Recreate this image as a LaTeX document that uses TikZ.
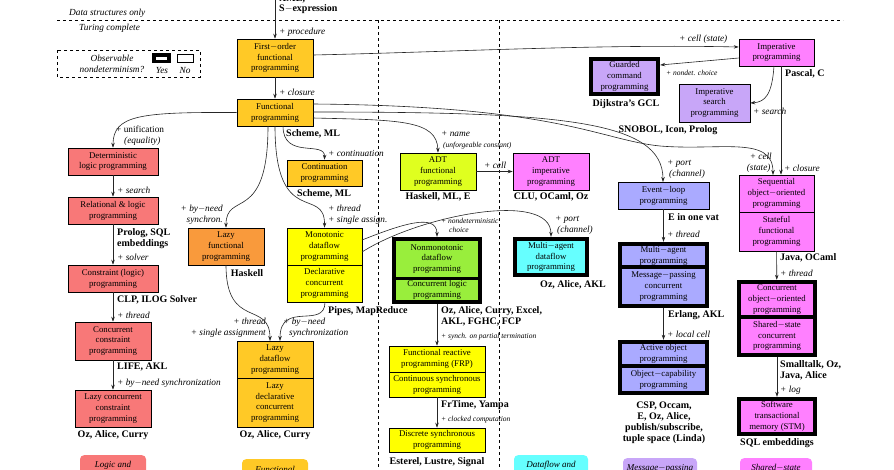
\documentclass[tikz,border=0pt]{standalone}
\usepackage{fontspec}
\setmainfont{Liberation Serif}
\usetikzlibrary{arrows.meta}
\definecolor{cor}{HTML}{FFC926}
\definecolor{cred}{HTML}{F87878}
\definecolor{clf}{HTML}{F99A3C}
\definecolor{cyel}{HTML}{FFFF00}
\definecolor{cadt}{HTML}{DFFF1F}
\definecolor{cpink}{HTML}{FF80FF}
\definecolor{cgreen}{HTML}{99EE3C}
\definecolor{ccyan}{HTML}{66FFFF}
\definecolor{clav}{HTML}{C8A6F8}
\definecolor{cblue}{HTML}{AAAAFF}
\begin{document}
\begin{tikzpicture}[x=1pt,y=-1pt,
  bx/.style={draw,line width=0.6pt,align=center,inner sep=0pt,font=\fontsize{8.8}{10.8}\selectfont},
  ib/.style={draw=none,align=center,inner sep=0pt,font=\fontsize{8.8}{10.8}\selectfont},
  thk/.style={fill=black,draw=none,inner sep=0pt},
  lab/.style={font=\fontsize{9.3}{10.8}\selectfont\itshape,inner sep=1pt},
  slab/.style={font=\fontsize{7.5}{9}\selectfont\itshape,inner sep=1pt},
  bl/.style={font=\fontsize{10}{11}\selectfont\bfseries,inner sep=1pt,align=left},
  ar/.style={draw=black!85,line width=0.6pt,-{Stealth[length=5pt,width=3.5pt]}},
  leg/.style={rounded corners=4pt,draw=none,inner sep=0pt,font=\fontsize{9}{10}\selectfont\itshape,anchor=north,align=center}]
\useasboundingbox (0,0) rectangle (894,469);
\fill[white] (0,0) rectangle (894,469);
% region lines
\draw[dashed,line width=0.6pt] (57,20) -- (843,20);
\draw[dashed,line width=0.6pt] (378,20) -- (378,469);
\draw[dashed,line width=0.6pt] (499,20) -- (499,469);
\node[lab,anchor=west] (ds) at (68,13) {Data structures only};
\node[lab,anchor=west] (tc) at (78,28) {Turing complete};
% legend
\draw[dashed,line width=0.6pt] (57,50) rectangle (200,77);
\node[lab,align=center] (obs) at (112,63.5) {Observable\\nondeterminism?};
\node[thk,minimum width=19,minimum height=10] (yb) at (161.5,58) {};
\fill[white] (156,57) rectangle (167,59.5);
\node[draw,line width=0.6pt,minimum width=16,minimum height=8,inner sep=0] (nb) at (185,58) {};
\node[lab] (yes) at (162,70) {Yes};
\node[lab] (no) at (185,70) {No};
% top
\coordinate (top) at (275,0);
\node[bl,anchor=west] (xml) at (278,-1.5) {XML,};
\node[bl,anchor=west] (sexp) at (278,9.5) {S$-$expression};
% nodes
\node[bx,fill=cor,minimum width=76,minimum height=38] (fo) at (275,58) {First$-$order\\functional\\programming};
\node[bx,fill=cor,minimum width=76,minimum height=27] (fp) at (275,112.5) {Functional\\programming};
\node[bx,fill=cpink,minimum width=75,minimum height=27] (imp) at (776.5,52.5) {Imperative\\programming};
\node[thk,minimum width=71,minimum height=39] (gclo) at (624.5,76.5) {};
\node[ib,fill=clav,minimum width=63,minimum height=31] (gcl) at (624.5,76.5) {Guarded\\command\\programming};
\node[bx,fill=clav,minimum width=71,minimum height=38] (isr) at (714.5,103) {Imperative\\search\\programming};
\node[bx,fill=cred,minimum width=90,minimum height=27] (dlp) at (113,161.5) {Deterministic\\logic programming};
\node[bx,fill=cred,minimum width=90,minimum height=27] (rlp) at (113,210.5) {Relational \& logic\\programming};
\node[bx,fill=cred,minimum width=90,minimum height=27] (clp) at (113,278.5) {Constraint (logic)\\programming};
\node[bx,fill=cred,minimum width=76,minimum height=38] (ccp) at (113,341) {Concurrent\\constraint\\programming};
\node[bx,fill=cred,minimum width=76,minimum height=37] (lccp) at (113,408.5) {Lazy concurrent\\constraint\\programming};
\node[bx,fill=cor,minimum width=75,minimum height=26] (cont) at (324.5,173) {Continuation\\programming};
\node[bx,fill=clf,minimum width=76,minimum height=37] (lfp) at (226,246.5) {Lazy\\functional\\programming};
\node[bx,fill=cyel,minimum width=75,minimum height=37] (mdp) at (324.5,246.5) {Monotonic\\dataflow\\programming};
\node[bx,fill=cyel,minimum width=75,minimum height=37] (dcp) at (324.5,283.5) {Declarative\\concurrent\\programming};
\node[bx,fill=cor,minimum width=76,minimum height=37] (ldp) at (275,359.5) {Lazy\\dataflow\\programming};
\node[bx,fill=cor,minimum width=76,minimum height=49] (ldcp) at (275,402.5) {Lazy\\declarative\\concurrent\\programming};
\node[bx,fill=cadt,minimum width=76,minimum height=37] (adtf) at (438,171.5) {ADT\\functional\\programming};
\node[bx,fill=cpink,minimum width=76,minimum height=37] (adti) at (551,171.5) {ADT\\imperative\\programming};
\node[thk,minimum width=90,minimum height=67] (nmdo) at (437,270.5) {};
\node[ib,fill=cgreen,minimum width=82,minimum height=36] (nmd) at (437,259) {Nonmonotonic\\dataflow\\programming};
\node[ib,fill=cgreen,minimum width=82,minimum height=20] (clg) at (437,290) {Concurrent logic\\programming};
\node[bx,fill=cyel,minimum width=96,minimum height=26] (frp) at (437,359) {Functional reactive\\programming (FRP)};
\node[bx,fill=cyel,minimum width=96,minimum height=25] (csp) at (437,384.5) {Continuous synchronous\\programming};
\node[bx,fill=cyel,minimum width=96,minimum height=24] (dsp) at (437,440) {Discrete synchronous\\programming};
\node[thk,minimum width=76,minimum height=40] (mado) at (551,257) {};
\node[ib,fill=ccyan,minimum width=68,minimum height=32] (mad) at (551,257) {Multi$-$agent\\dataflow\\programming};
\node[bx,fill=cblue,minimum width=91,minimum height=27] (evl) at (663.5,195.5) {Event$-$loop\\programming};
\node[thk,minimum width=91,minimum height=66] (mapo) at (663.5,275) {};
\node[ib,fill=cblue,minimum width=83,minimum height=19] (map) at (663.5,255.5) {Multi$-$agent\\programming};
\node[ib,fill=cblue,minimum width=83,minimum height=35] (mpc) at (663.5,286.5) {Message$-$passing\\concurrent\\programming};
\node[thk,minimum width=91,minimum height=55] (aopo) at (663.5,367.5) {};
\node[ib,fill=cblue,minimum width=83,minimum height=20] (aop) at (663.5,354) {Active object\\programming};
\node[ib,fill=cblue,minimum width=83,minimum height=23] (ocp) at (663.5,379.5) {Object$-$capability\\programming};
\node[bx,fill=cpink,minimum width=75,minimum height=37] (soo) at (776.5,193.5) {Sequential\\object$-$oriented\\programming};
\node[bx,fill=cpink,minimum width=75,minimum height=39] (sfp) at (776.5,231.5) {Stateful\\functional\\programming};
\node[thk,minimum width=80,minimum height=77] (cooo) at (777,318.5) {};
\node[ib,fill=cpink,minimum width=72,minimum height=31] (coo) at (777,299.5) {Concurrent\\object$-$oriented\\programming};
\node[ib,fill=cpink,minimum width=72,minimum height=34] (ssc) at (777,336) {Shared$-$state\\concurrent\\programming};
\node[thk,minimum width=80,minimum height=39] (stmo) at (777,416.5) {};
\node[ib,fill=cpink,minimum width=72,minimum height=31] (stm) at (777,416.5) {Software\\transactional\\memory (STM)};
% language labels
\node[bl,anchor=west] (l1) at (784,74) {Pascal, C};
\node[bl] (l2) at (626,104) {Dijkstra's GCL};
\node[bl] (l3) at (668,130) {SNOBOL, Icon, Prolog};
\node[bl,anchor=west] (l4) at (285,134) {Scheme, ML};
\node[bl] (l5) at (324,194) {Scheme, ML};
\node[bl,anchor=west] (l6) at (116,239) {Prolog, SQL\\embeddings};
\node[bl,anchor=west] (l7) at (116,300) {CLP, ILOG Solver};
\node[bl,anchor=west] (l8) at (116,367) {LIFE, AKL};
\node[bl] (l9) at (113,435) {Oz, Alice, Curry};
\node[bl] (l10) at (247,273) {Haskell};
\node[bl,anchor=west] (l11) at (327,311) {Pipes, MapReduce};
\node[bl] (l12) at (275,435) {Oz, Alice, Curry};
\node[bl] (l13) at (438,197) {Haskell, ML, E};
\node[bl] (l14) at (551,197) {CLU, OCaml, Oz};
\node[bl,anchor=west] (l15) at (440,316.5) {Oz, Alice, Curry, Excel,\\AKL, FGHC, FCP};
\node[bl,anchor=west] (l16) at (440,405) {FrTime, Yampa};
\node[bl] (l17) at (437,462) {Esterel, Lustre, Signal};
\node[bl] (l18) at (573,285) {Oz, Alice, AKL};
\node[bl,anchor=west] (l19) at (667,217) {E in one vat};
\node[bl,anchor=west] (l20) at (667,315) {Erlang, AKL};
\node[bl,align=center] (l21) at (664,423) {CSP, Occam,\\E, Oz, Alice,\\publish/subscribe,\\tuple space (Linda)};
\node[bl,anchor=west] (l22) at (779,258) {Java, OCaml};
\node[bl,anchor=west] (l23) at (779,370.5) {Smalltalk, Oz,\\Java, Alice};
\node[bl] (l24) at (777,443) {SQL embeddings};
% transition labels
\node[lab,anchor=west] (t1) at (278,32) {+ procedure};
\node[lab,anchor=west] (t2) at (278,92) {+ closure};
\node[lab,anchor=west] (t3) at (678,39) {+ cell (state)};
\node[slab,anchor=west] (t4) at (665,73) {+ nondet. choice};
\node[lab,anchor=west] (t5) at (752,111) {+ search};
\node[lab,anchor=west,align=left] (t6) at (115,135.5) {{\upshape + unification}\\\hspace*{8pt}(equality)};
\node[lab,anchor=west] (t7) at (116,190) {+ search};
\node[lab,anchor=west] (t8) at (116,257) {+ solver};
\node[lab,anchor=west] (t9) at (116,315) {+ thread};
\node[lab,anchor=west] (t10) at (116,383) {+ by$-$need synchronization};
\node[lab,anchor=west] (t11) at (327,153.5) {+ continuation};
\node[lab,align=right,anchor=east] (t12) at (224,215) {+ by$-$need\\synchron.};
\node[lab,align=left,anchor=west] (t13) at (327,214.5) {+ thread\\+ single assign.};
\node[lab,align=right,anchor=east] (t14) at (267,328) {+ thread\\+ single assignment};
\node[lab,align=left,anchor=west] (t15) at (282,328) {+ by$-$need\\\hspace*{6pt}synchronization};
\node[lab,anchor=west,align=left] (t16) at (440,140) {+ name\\\hspace*{2pt}{\fontsize{7.5}{8}\selectfont(unforgeable constant)}};
\node[lab,anchor=west] (t17) at (483,165) {+ cell};
\node[slab,anchor=west,align=left] (t18) at (440,225.5) {+ nondeterministic\\\hspace*{8pt}choice};
\node[lab,anchor=west,align=left] (t19) at (554,225.5) {+ port\\\hspace*{2pt}(channel)};
\node[slab,anchor=west] (t20) at (440,337) {+ synch. on partial termination};
\node[slab,anchor=west] (t21) at (440,420) {+ clocked computation};
\node[lab,anchor=west,align=left] (t22) at (666,169.5) {+ port\\\hspace*{2pt}(channel)};
\node[lab,anchor=west] (t23) at (666,234) {+ thread};
\node[lab,anchor=west] (t24) at (666,334) {+ local cell};
\node[lab,align=left,anchor=east] (t25) at (773,162.5) {\hspace*{3pt}+ cell\\(state)};
\node[lab,anchor=west] (t26) at (783,168) {+ closure};
\node[lab,anchor=west] (t27) at (779,273) {+ thread};
\node[lab,anchor=west] (t28) at (779,390) {+ log};
% bottom legends
\node[leg,fill=cred,minimum width=66,minimum height=20] (g1) at (113,455) {Logic and};
\node[leg,fill=cor,minimum width=66,minimum height=20] (g2) at (275,459) {Functional};
\node[leg,fill=ccyan,minimum width=74,minimum height=20] (g3) at (551,455) {Dataflow and};
\node[leg,fill=clav,minimum width=74,minimum height=20] (g4) at (660,458) {Message$-$passing};
\node[leg,fill=cpink,minimum width=72,minimum height=20] (g5) at (776,458) {Shared$-$state};
% connectors
\draw[ar] (top) -- (fo);
\draw[ar] (fo) -- (fp);
\draw[ar] (fo.east |- 0,55) .. controls (450,52) and (600,44) .. (imp.west |- 0,47);
\draw[ar] (imp.west |- 0,58) -- (gclo.east |- 0,65);
\draw[ar] (774,66) .. controls (772,95) and (765,102) .. (isr.east |- 0,103);
\draw[ar] (781,66) -- (soo.north -| 781,0);
\draw[ar] (fp.west) .. controls (140,112) and (113,115) .. (dlp.north);
\draw[ar] (dlp) -- (rlp);
\draw[ar] (rlp) -- (clp);
\draw[ar] (clp) -- (ccp);
\draw[ar] (ccp) -- (lccp);
\draw[ar] (283,126) .. controls (283,160) and (325,140) .. (cont.north);
\draw[ar] (268,126) .. controls (268,225) and (226,190) .. (lfp.north);
\draw[ar] (275,126) .. controls (275,230) and (325,185) .. (mdp.north);
\draw[ar] (313,104) .. controls (560,106) and (600,140) .. (660,146) .. controls (720,151) and (773,135) .. (773,175);
\draw[ar] (313,112) .. controls (560,112) and (663,120) .. (663,182);
\draw[ar] (313,118) .. controls (400,120) and (437,120) .. (adtf.north);
\draw[ar] (adtf) -- (adti);
\draw[ar] (362,240) .. controls (400,225) and (437,212) .. (nmdo.north);
\draw[ar] (362,252) .. controls (420,215) and (551,190) .. (mado.north);
\draw[ar] (226,265) .. controls (226,330) and (270,300) .. (270,341);
\draw[ar] (325,302) .. controls (325,330) and (280,300) .. (280,341);
\draw[ar] (nmdo) -- (frp);
\draw[ar] (csp) -- (dsp);
\draw[ar] (evl) -- (mapo);
\draw[ar] (mapo) -- (aopo);
\draw[ar] (sfp) -- (cooo);
\draw[ar] (cooo) -- (stmo);
\end{tikzpicture}
\end{document}
